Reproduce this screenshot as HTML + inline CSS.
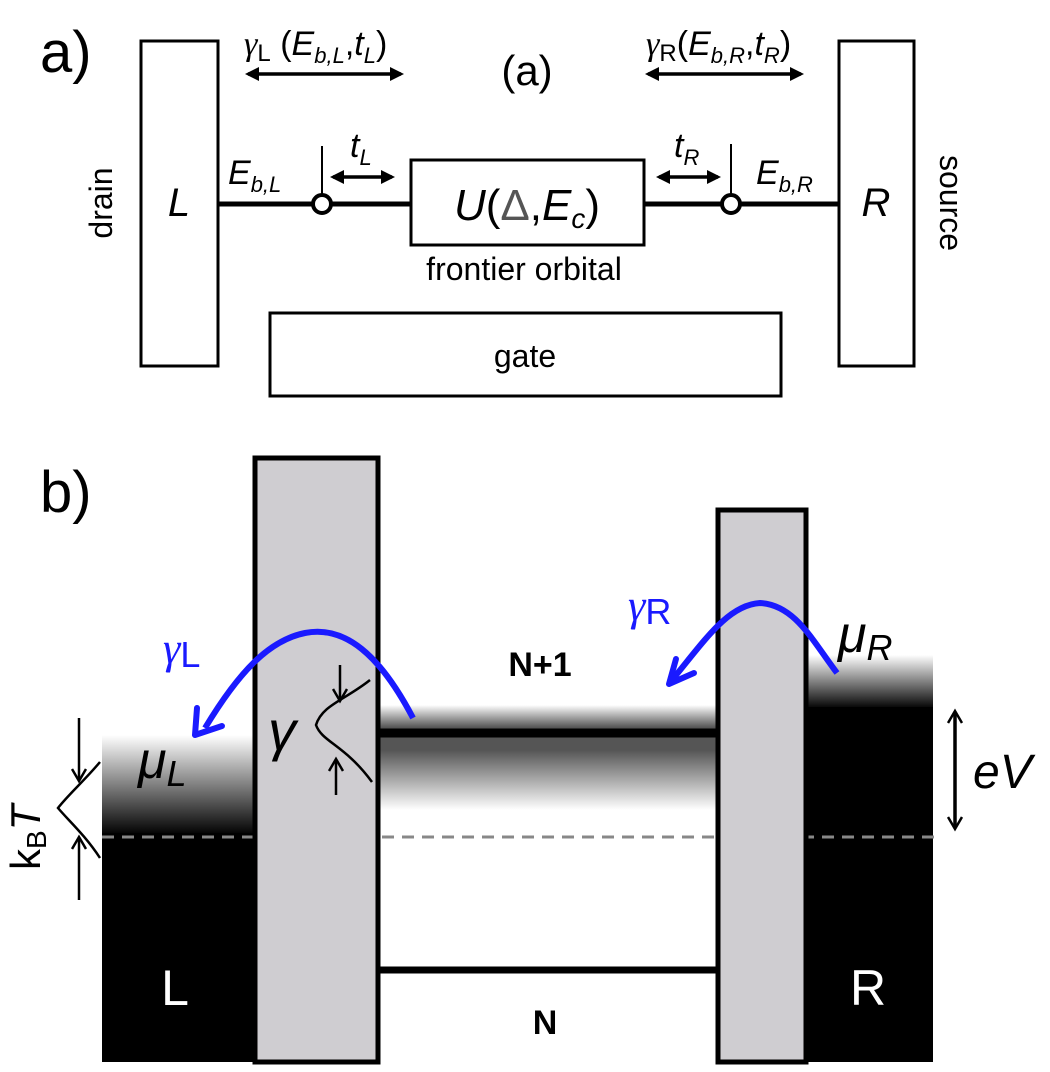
<!DOCTYPE html>
<html><head><meta charset="utf-8"><style>
html,body{margin:0;padding:0;background:#fff;}
svg{display:block;}
text{font-family:"Liberation Sans","DejaVu Sans",sans-serif;}
</style></head><body>
<svg width="1050" height="1072" viewBox="0 0 1050 1072" xmlns="http://www.w3.org/2000/svg">
<defs>
<marker id="ah" markerWidth="14" markerHeight="14" refX="11" refY="7" orient="auto-start-reverse" markerUnits="userSpaceOnUse">
<path d="M0,0 L14,7 L0,14 z" fill="#000"/></marker>
<marker id="ao" markerWidth="16" markerHeight="16" refX="12" refY="8" orient="auto-start-reverse" markerUnits="userSpaceOnUse">
<path d="M1,1 L13,8 L1,15" fill="none" stroke="#000" stroke-width="2.5"/></marker>
<linearGradient id="gL" x1="0" y1="0" x2="0" y2="1">
<stop offset="0" stop-color="#fff"/><stop offset="1" stop-color="#000"/></linearGradient>
<linearGradient id="gM" x1="0" y1="0" x2="0" y2="1">
<stop offset="0" stop-color="#fff"/><stop offset="0.3" stop-color="#fff"/><stop offset="0.45" stop-color="#555"/><stop offset="0.6" stop-color="#555"/><stop offset="1" stop-color="#fff"/></linearGradient>
</defs>

<!-- Part a -->
<text x="40" y="72" font-size="58">a)</text>
<rect x="141" y="41" width="77" height="325" fill="#fff" stroke="#000" stroke-width="3"/>
<rect x="839" y="41" width="75" height="325" fill="#fff" stroke="#000" stroke-width="3"/>
<text transform="translate(112,203) rotate(-90)" font-size="32" text-anchor="middle">drain</text>
<text transform="translate(940,203) rotate(90)" font-size="32" text-anchor="middle">source</text>
<text x="179" y="216" font-size="40" font-style="italic" text-anchor="middle">L</text>
<text x="876" y="216" font-size="40" font-style="italic" text-anchor="middle">R</text>
<rect x="270" y="313" width="511" height="83" fill="#fff" stroke="#000" stroke-width="3"/>
<text x="525" y="367" font-size="32" text-anchor="middle">gate</text>
<line x1="218" y1="204" x2="411" y2="204" stroke="#000" stroke-width="5"/>
<line x1="644" y1="204" x2="839" y2="204" stroke="#000" stroke-width="5"/>
<rect x="411" y="160" width="233" height="85" fill="#fff" stroke="#000" stroke-width="3"/>
<text x="527" y="220" font-size="44" text-anchor="middle"><tspan font-style="italic">U</tspan>(<tspan fill="#555">Δ</tspan>,<tspan font-style="italic">E<tspan font-size="28" dy="8">c</tspan></tspan><tspan dy="-8">)</tspan></text>
<text x="524" y="280" font-size="32" text-anchor="middle">frontier orbital</text>
<line x1="322" y1="146" x2="322" y2="196" stroke="#000" stroke-width="2"/>
<line x1="731" y1="144" x2="731" y2="196" stroke="#000" stroke-width="2"/>
<circle cx="322" cy="204" r="9" fill="#fff" stroke="#000" stroke-width="4"/>
<circle cx="731" cy="204" r="9" fill="#fff" stroke="#000" stroke-width="4"/>
<text x="228" y="184" font-size="34" font-style="italic">E<tspan font-size="22" dy="8">b,L</tspan></text>
<text x="756" y="184" font-size="34" font-style="italic">E<tspan font-size="22" dy="8">b,R</tspan></text>
<text x="350" y="157" font-size="34" font-style="italic">t<tspan font-size="22" dy="8">L</tspan></text>
<text x="674" y="157" font-size="34" font-style="italic">t<tspan font-size="22" dy="8">R</tspan></text>
<line x1="333" y1="177" x2="392" y2="177" stroke="#000" stroke-width="3.5" marker-start="url(#ah)" marker-end="url(#ah)"/>
<line x1="659" y1="177" x2="718" y2="177" stroke="#000" stroke-width="3.5" marker-start="url(#ah)" marker-end="url(#ah)"/>
<line x1="248" y1="74" x2="401" y2="74" stroke="#000" stroke-width="3.5" marker-start="url(#ah)" marker-end="url(#ah)"/>
<line x1="648" y1="74" x2="801" y2="74" stroke="#000" stroke-width="3.5" marker-start="url(#ah)" marker-end="url(#ah)"/>
<text x="244" y="55" font-size="34"><tspan font-family="Liberation Serif, serif" font-style="italic">γ</tspan><tspan font-size="24" dy="6">L</tspan><tspan dy="-6"> (</tspan><tspan font-style="italic">E<tspan font-size="22" dy="8">b,L</tspan></tspan><tspan dy="-8">,</tspan><tspan font-style="italic">t<tspan font-size="22" dy="8">L</tspan></tspan><tspan dy="-8">)</tspan></text>
<text x="646" y="55" font-size="34"><tspan font-family="Liberation Serif, serif" font-style="italic">γ</tspan><tspan font-size="24" dy="6">R</tspan><tspan dy="-6">(</tspan><tspan font-style="italic">E<tspan font-size="22" dy="8">b,R</tspan></tspan><tspan dy="-8">,</tspan><tspan font-style="italic">t<tspan font-size="22" dy="8">R</tspan></tspan><tspan dy="-8">)</tspan></text>
<text x="527" y="85" font-size="42" text-anchor="middle">(a)</text>

<!-- Part b -->
<text x="40" y="512" font-size="58">b)</text>
<rect x="102" y="735" width="153" height="100" fill="url(#gL)"/>
<rect x="102" y="833" width="153" height="229" fill="#000"/>
<rect x="806" y="655" width="127" height="54" fill="url(#gL)"/>
<rect x="806" y="707" width="127" height="355" fill="#000"/>
<rect x="378" y="660" width="340" height="150" fill="url(#gM)"/>
<line x1="378" y1="733" x2="718" y2="733" stroke="#000" stroke-width="9"/>
<line x1="378" y1="970" x2="718" y2="970" stroke="#000" stroke-width="7"/>
<line x1="102" y1="837" x2="935" y2="837" stroke="#888" stroke-width="3" stroke-dasharray="12,8"/>
<rect x="255" y="458" width="123" height="604" fill="#cfcdd1" stroke="#000" stroke-width="5"/>
<rect x="718" y="510" width="88" height="552" fill="#cfcdd1" stroke="#000" stroke-width="5"/>
<text x="540" y="676" font-size="34" font-weight="bold" text-anchor="middle">N+1</text>
<text x="545" y="1034" font-size="34" font-weight="bold" text-anchor="middle">N</text>
<text x="175" y="1005" font-size="50" fill="#fff" text-anchor="middle">L</text>
<text x="868" y="1005" font-size="50" fill="#fff" text-anchor="middle">R</text>
<path d="M370,680 C345,700 322,705 316,725 C322,742 345,745 372,782" fill="none" stroke="#000" stroke-width="2.5"/>
<line x1="340" y1="665" x2="340" y2="700" stroke="#000" stroke-width="2.5" marker-end="url(#ao)"/>
<line x1="336" y1="795" x2="336" y2="760" stroke="#000" stroke-width="2.5" marker-end="url(#ao)"/>
<text x="268" y="750" font-size="56" font-family="Liberation Serif, serif" font-style="italic">γ</text>
<path d="M100,762 C85,780 68,795 58,808 C68,820 85,835 100,858" fill="none" stroke="#000" stroke-width="2.5"/>
<line x1="79" y1="718" x2="79" y2="780" stroke="#000" stroke-width="2.5" marker-end="url(#ao)"/>
<line x1="79" y1="900" x2="79" y2="838" stroke="#000" stroke-width="2.5" marker-end="url(#ao)"/>
<text transform="translate(40,870) rotate(-90)" font-size="42">k<tspan font-size="28" dy="6">B</tspan><tspan dy="-6" font-style="italic">T</tspan></text>
<line x1="955" y1="712" x2="955" y2="828" stroke="#000" stroke-width="3.5" marker-start="url(#ao)" marker-end="url(#ao)"/>
<text x="973" y="788" font-size="48" font-style="italic">eV</text>
<text x="138" y="778" font-size="52" font-style="italic" font-family="Liberation Serif, serif">μ<tspan font-family="Liberation Sans, sans-serif" font-size="36" dy="8">L</tspan></text>
<text x="838" y="652" font-size="52" font-style="italic" font-family="Liberation Serif, serif">μ<tspan font-family="Liberation Sans, sans-serif" font-size="36" dy="8">R</tspan></text>
<path d="M413,718 C380,655 345,625 305,633 C270,640 240,670 205,728" fill="none" stroke="#1a1aff" stroke-width="6"/>
<path d="M195,735 L197,708 M195,735 L222,726" fill="none" stroke="#1a1aff" stroke-width="6" stroke-linecap="round"/>
<path d="M837,673 C812,640 795,605 760,603 C728,605 705,640 672,680" fill="none" stroke="#1a1aff" stroke-width="6"/>
<path d="M669,684 L676,659 M669,684 L694,673" fill="none" stroke="#1a1aff" stroke-width="6" stroke-linecap="round"/>
<text x="163" y="663" font-size="44" fill="#1a1aff"><tspan font-family="Liberation Serif, serif" font-style="italic">γ</tspan><tspan font-size="36" dy="4">L</tspan></text>
<text x="628" y="620" font-size="44" fill="#1a1aff"><tspan font-family="Liberation Serif, serif" font-style="italic">γ</tspan><tspan font-size="36" dy="4">R</tspan></text>
</svg>
</body></html>
